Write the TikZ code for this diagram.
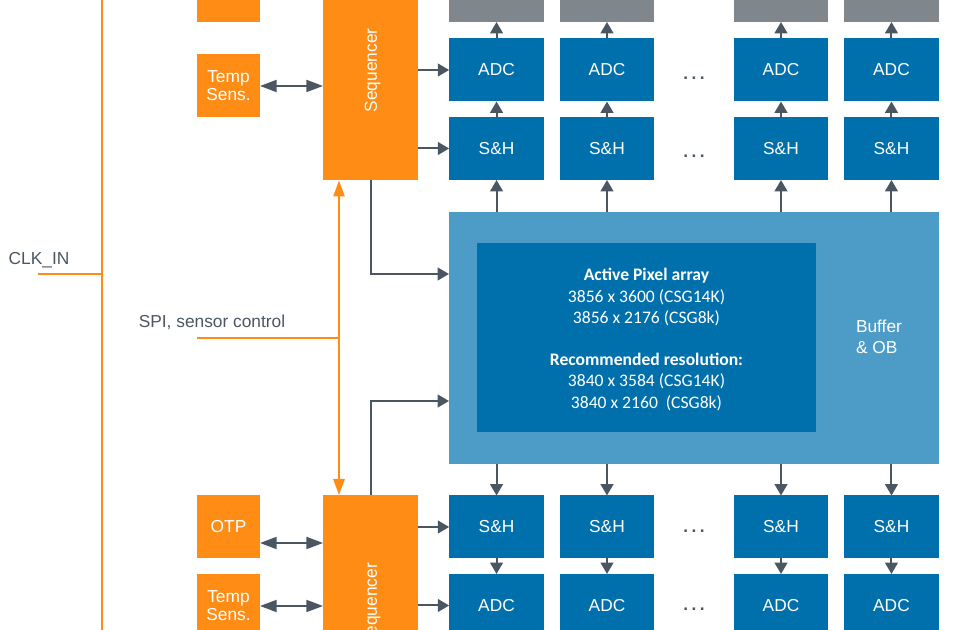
\documentclass[tikz,border=0pt]{standalone}
\usepackage{fontspec}
\setmainfont{Liberation Sans}
\newfontfamily\calfont{Carlito}
\usetikzlibrary{arrows.meta}
\definecolor{seqorange}{HTML}{FF8C14}
\definecolor{adcblue}{HTML}{0070AD}
\definecolor{bufblue}{HTML}{4D9BC7}
\definecolor{outgrey}{HTML}{7F878D}
\definecolor{wiregrey}{HTML}{4A5763}
\definecolor{labelgrey}{HTML}{4A5763}
\newcommand{\wdots}{\textbf{.}\kern2.6pt\textbf{.}\kern2.6pt\textbf{.}}
\begin{document}
\begin{tikzpicture}[x=0.75pt,y=-0.75pt,
    box/.style={inner sep=0pt, outer sep=0pt, text=white, font=\fontsize{13}{15.75}\selectfont, align=center},
    orangebox/.style={box, fill=seqorange, minimum width=47.25pt, minimum height=47.25pt, font=\fontsize{13}{13.5}\selectfont},
    seqbox/.style={box, fill=seqorange, minimum width=71.25pt, minimum height=165pt},
    bluebox/.style={box, fill=adcblue, minimum width=71pt, minimum height=47.25pt},
    greybox/.style={box, fill=outgrey, minimum width=71pt, minimum height=47.25pt},
    label/.style={inner sep=0pt, text=labelgrey, font=\fontsize{13}{15.75}\selectfont},
    dotlabel/.style={inner sep=0pt, anchor=base, text=labelgrey, font=\fontsize{13}{15.75}\selectfont},
    arrow/.style={draw=wiregrey, line width=1.5pt, -{Triangle[width=9.5pt,length=8.5pt]}},
    biarrow/.style={draw=wiregrey, line width=1.5pt, {Triangle[width=9pt,length=12.5pt]}-{Triangle[width=9pt,length=12.5pt]}},
    wire/.style={draw=seqorange, line width=1.3pt}]
      \useasboundingbox (0,0) rectangle (961,630);
      \clip (0,0) rectangle (961,630);
      % left side
      \coordinate (busA) at (102,-10);
      \coordinate (busB) at (102,640);
      \coordinate (clkin) at (38,274);
      \coordinate (spi) at (197,338);
      \coordinate (ctrl) at (339,338);
      \draw[wire] (busA) -- (busB);
      \draw[wire] (clkin) -- (clkin -| busA);
      \node[label] (clklabel) at (39,260) {CLK\_IN};
      \node[label] (spilabel) at (212,322) {SPI, sensor control};
      % sequencers and their blocks
      \node[orangebox] (otpA) at (228.5,-9.5) {};
      \node[orangebox] (tempA) at (228.5,86) {Temp\\Sens.};
      \node[seqbox] (seqA) at (370.5,70.5) {\hspace*{3pt}\rotatebox{90}{Sequencer}};
      \node[orangebox] (otpB) at (228.5,527) {OTP};
      \node[orangebox] (tempB) at (228.5,606) {Temp\\Sens.};
      \node[seqbox] (seqB) at (370.5,605) {\hspace*{3pt}\rotatebox{90}{Sequencer}};
      \draw[biarrow] (tempA.east) -- (tempA.east -| seqA.west);
      \draw[biarrow] ([yshift=-12pt]otpB.east) -- ([yshift=-12pt]otpB.east -| seqB.west);
      \draw[biarrow] (tempB.east) -- (tempB.east -| seqB.west);
      \draw[wire, {Triangle[width=8.5pt,length=12pt]}-{Triangle[width=8.5pt,length=12pt]}] ([xshift=12pt]seqA.south west) -- ([xshift=12pt]seqB.north west);
      \draw[wire] (spi) -- (ctrl);
      % pixel array
      \node[box, fill=bufblue, minimum width=367.5pt, minimum height=189pt] (buffer) at (694,338) {};
      \node[box, fill=adcblue, minimum width=254.25pt, minimum height=141.75pt] (pixels) at (646.5,337.5) {};
      \node[box, font=\calfont\fontsize{13.2}{15.9}\selectfont] (pixlabel) at (646.5,339.5) {\textbf{Active Pixel array}\\3856 x 3600 (CSG14K)\\3856 x 2176 (CSG8k)\\[15.9pt]\textbf{Recommended resolution:}\\3840 x 3584 (CSG14K)\\3840 x 2160\ \ (CSG8k)};
      \node[box, fill=none, align=left] (buflabel) at (879,336.5) {Buffer\\\& OB};
      \draw[arrow] (seqA.south) |- ([yshift=48pt]buffer.west);
      \draw[arrow] (seqB.north) |- ([yshift=-47.25pt]buffer.west);
      % columns
      \begin{scope}[xshift=372.4pt]
        \node[greybox] (greyA) at (0,-9.5) {};
        \node[bluebox] (adcA) at (0,70) {ADC};
        \node[bluebox] (shA) at (0,148.5) {S\&H};
        \node[bluebox] (shbA) at (0,527) {S\&H};
        \node[bluebox] (adcbA) at (0,605.5) {ADC};
        \draw[arrow] (adcA) -- (greyA);
        \draw[arrow] (shA) -- (adcA);
        \draw[arrow] (shA |- buffer.north) -- (shA);
        \draw[arrow] (shA |- buffer.south) -- (shbA);
        \draw[arrow] (shbA) -- (adcbA);
      \end{scope}
      \begin{scope}[xshift=455.25pt]
        \node[greybox] (greyB) at (0,-9.5) {};
        \node[bluebox] (adcB) at (0,70) {ADC};
        \node[bluebox] (shB) at (0,148.5) {S\&H};
        \node[bluebox] (shbB) at (0,527) {S\&H};
        \node[bluebox] (adcbB) at (0,605.5) {ADC};
        \draw[arrow] (adcB) -- (greyB);
        \draw[arrow] (shB) -- (adcB);
        \draw[arrow] (shB |- buffer.north) -- (shB);
        \draw[arrow] (shB |- buffer.south) -- (shbB);
        \draw[arrow] (shbB) -- (adcbB);
      \end{scope}
      \begin{scope}[xshift=585.75pt]
        \node[greybox] (greyC) at (0,-9.5) {};
        \node[bluebox] (adcC) at (0,70) {ADC};
        \node[bluebox] (shC) at (0,148.5) {S\&H};
        \node[bluebox] (shbC) at (0,527) {S\&H};
        \node[bluebox] (adcbC) at (0,605.5) {ADC};
        \draw[arrow] (adcC) -- (greyC);
        \draw[arrow] (shC) -- (adcC);
        \draw[arrow] (shC |- buffer.north) -- (shC);
        \draw[arrow] (shC |- buffer.south) -- (shbC);
        \draw[arrow] (shbC) -- (adcbC);
      \end{scope}
      \begin{scope}[xshift=668.6pt]
        \node[greybox] (greyD) at (0,-9.5) {};
        \node[bluebox] (adcD) at (0,70) {ADC};
        \node[bluebox] (shD) at (0,148.5) {S\&H};
        \node[bluebox] (shbD) at (0,527) {S\&H};
        \node[bluebox] (adcbD) at (0,605.5) {ADC};
        \draw[arrow] (adcD) -- (greyD);
        \draw[arrow] (shD) -- (adcD);
        \draw[arrow] (shD |- buffer.north) -- (shD);
        \draw[arrow] (shD |- buffer.south) -- (shbD);
        \draw[arrow] (shbD) -- (adcbD);
      \end{scope}
      % sequencer outputs
      \draw[arrow] (seqA.east |- adcA) -- (adcA);
      \draw[arrow] (seqA.east |- shA) -- (shA);
      \draw[arrow] (seqB.east |- shbA) -- (shbA);
      \draw[arrow] (seqB.east |- adcbA) -- (adcbA);
      % dots between columns
      \node[dotlabel] (dotsA) at (694,80) {\wdots};
      \node[dotlabel] (dotsB) at (694,158) {\wdots};
      \node[dotlabel] (dotsC) at (694,533) {\wdots};
      \node[dotlabel] (dotsD) at (694,611) {\wdots};
    \end{tikzpicture}
\end{document}
